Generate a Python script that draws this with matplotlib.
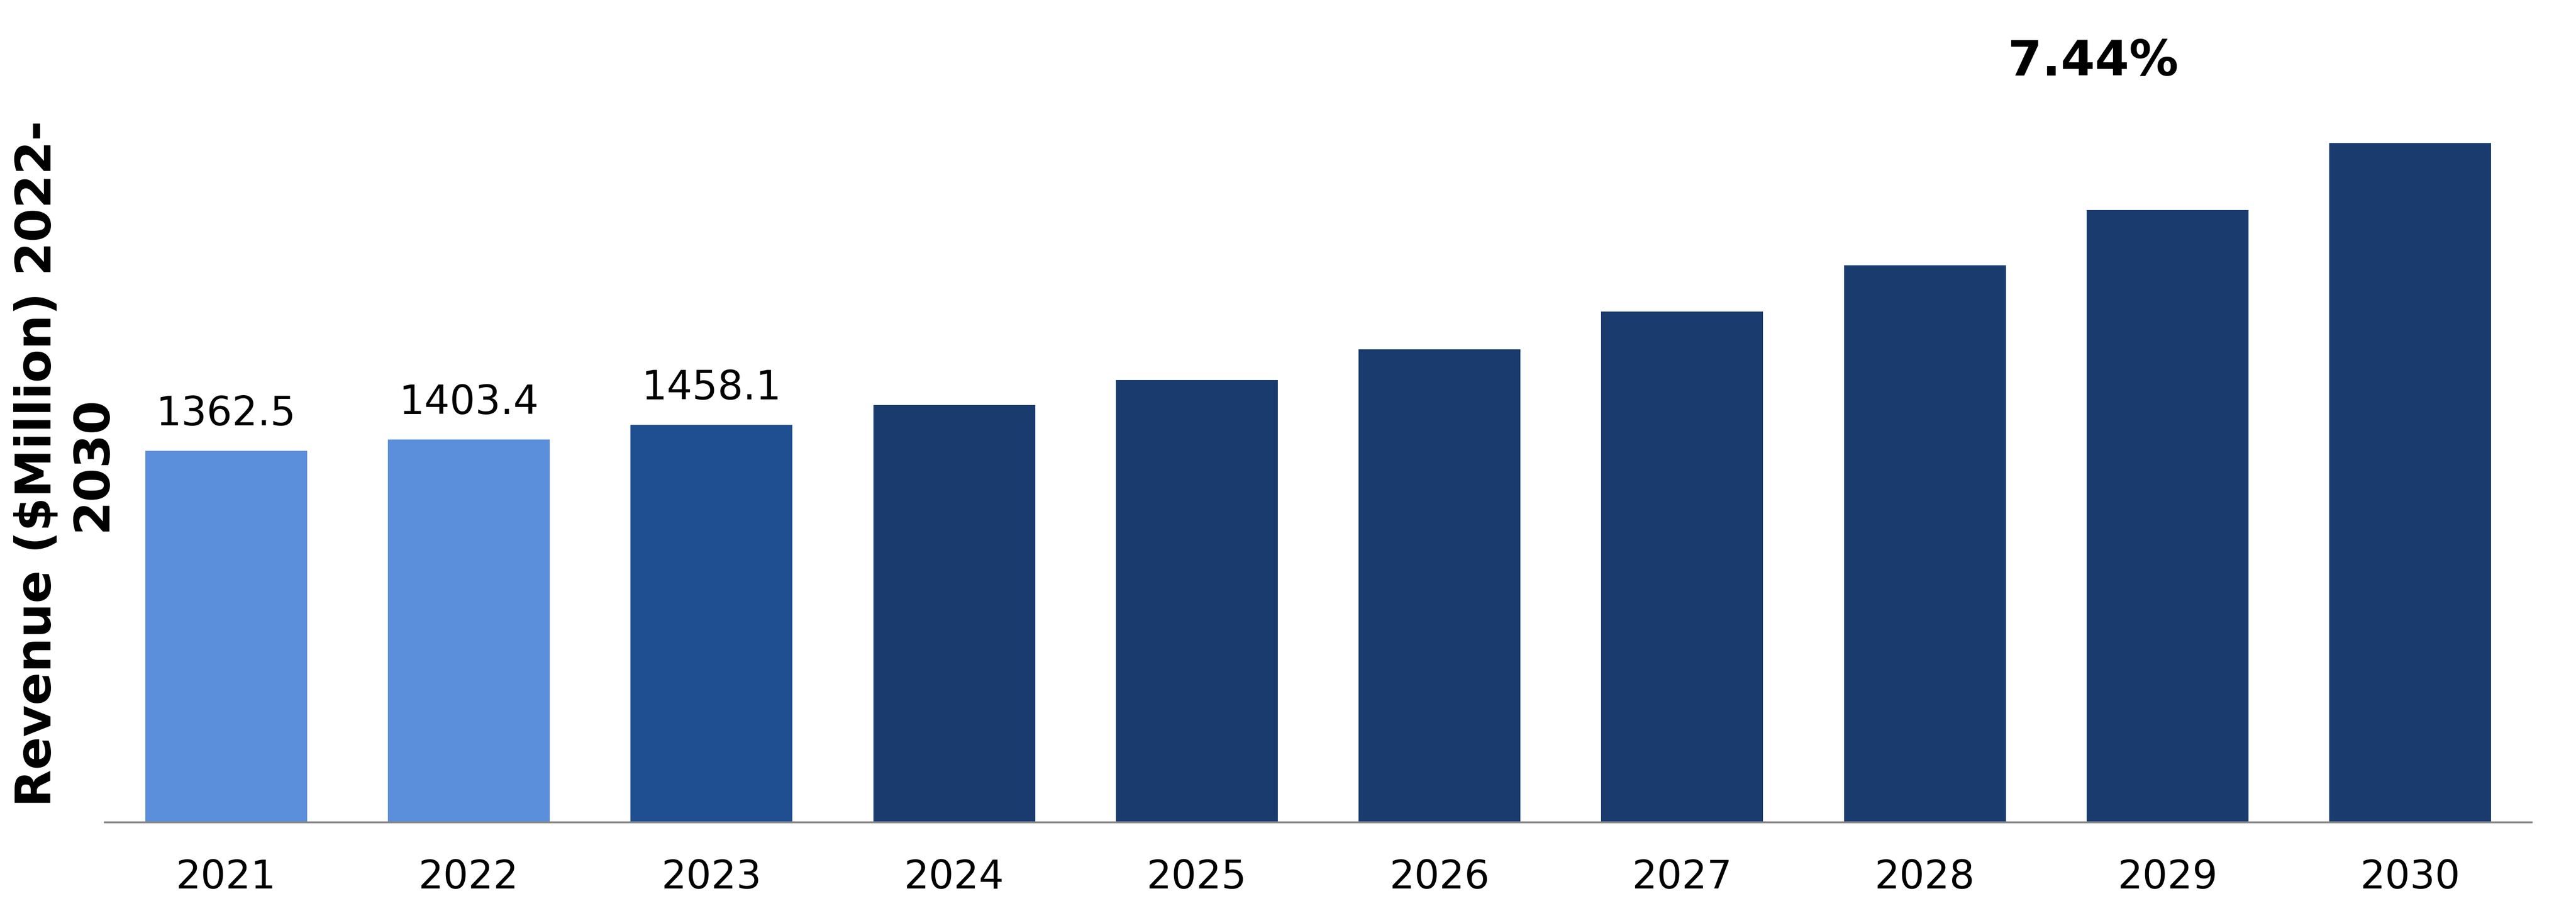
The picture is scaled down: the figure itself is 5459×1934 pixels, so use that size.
import matplotlib
matplotlib.use("Agg")
import matplotlib.pyplot as plt

years = ["2021", "2022", "2023", "2024", "2025", "2026", "2027", "2028", "2029", "2030"]
revenue = [1362.5, 1403.4, 1458.1, 1530, 1622, 1735, 1874, 2043, 2246, 2491]
bar_colors = ["#5B8FDB", "#5B8FDB", "#1F4E91", "#193B6E", "#193B6E", "#193B6E",
              "#193B6E", "#193B6E", "#193B6E", "#193B6E"]
labeled_count = 3
cagr_text = "7.44%"
ylabel_text = "Revenue ($Million) 2022-\n2030"

W, H, DPI = 5459, 1934, 100
fig = plt.figure(figsize=(W / DPI, H / DPI), dpi=DPI)
fig.patch.set_facecolor("white")

ax = fig.add_axes([222 / W, 192 / H, (5365 - 222) / W, 1742 / H])
x = list(range(len(years)))
bars = ax.bar(x, revenue, width=0.667, color=bar_colors, zorder=2)

ax.set_xlim(-0.5, len(years) - 0.5)
ax.set_ylim(0, 1742 * 1362.5 / 787)

for s in ["top", "right", "left"]:
    ax.spines[s].set_visible(False)
ax.spines["bottom"].set_color("#898989")
ax.spines["bottom"].set_linewidth(2.9)
ax.set_yticks([])
ax.set_xticks(x)
ax.set_xticklabels(years, fontsize=60, family="DejaVu Sans", color="black")
ax.tick_params(axis="x", length=0, pad=55)

for i in range(labeled_count):
    ax.annotate(f"{revenue[i]}", xy=(x[i], revenue[i]), xytext=(0, 39),
                textcoords="offset points", ha="center", va="baseline",
                fontsize=61, family="DejaVu Sans", color="black")

fig.text(4436 / W, 1 - 160 / H, cagr_text, ha="center", va="baseline",
         fontsize=75, fontweight="bold", family="DejaVu Sans", color="black")

fig.text(138 / W, 1 - 982 / H, ylabel_text, rotation=90, ha="center", va="center",
         multialignment="center", fontsize=74, fontweight="bold",
         family="DejaVu Sans", color="black", linespacing=1.2)

fig.savefig("out.png", dpi=DPI, facecolor="white")
